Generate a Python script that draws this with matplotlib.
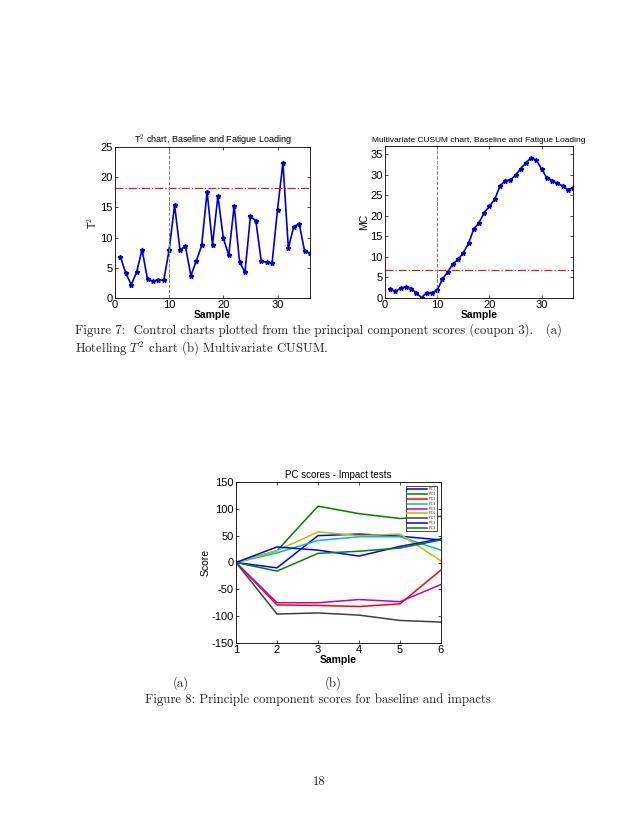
import matplotlib
matplotlib.use("Agg")
import matplotlib.pyplot as plt

matplotlib.rcParams['font.family'] = ['Liberation Sans', 'DejaVu Sans']
matplotlib.rcParams['mathtext.fontset'] = 'cm'
matplotlib.rcParams['axes.unicode_minus'] = False

W, H = 638, 826

# ---------- data ----------
samples = list(range(1, 37))
t2 = [6.8, 4.1, 2.2, 4.3, 8.0, 3.1, 2.8, 3.0, 2.9, 8.0,
      15.4, 7.9, 8.6, 3.7, 6.1, 8.7, 17.6, 8.8, 16.9, 9.9,
      7.1, 15.3, 5.9, 4.3, 13.5, 12.8, 6.1, 5.9, 5.8, 14.6,
      22.4, 8.3, 11.8, 12.3, 7.8, 7.4]
t2_limit = 18.2

mc = [2.2, 1.6, 2.4, 2.7, 2.3, 1.2, 0.1, 1.3, 1.3, 1.9,
      4.6, 6.3, 8.3, 9.4, 11.0, 13.3, 16.8, 18.3, 20.8, 22.3,
      24.0, 27.2, 28.6, 28.7, 29.9, 31.5, 32.9, 34.2, 33.5, 31.4,
      29.2, 28.6, 27.9, 27.3, 26.4, 26.8]
mc_limit = 6.7
change_point = 10

pc_samples = [1, 2, 3, 4, 5, 6]
pc_names = ['PC 1', 'PC 2', 'PC 3', 'PC 4', 'PC 5', 'PC 6', 'PC 7', 'PC 8', 'PC 9']
pc_scores = [
    [0, -10, 50, 53, 49, 42],
    [0, 22, 105, 91, 82, 86],
    [0, -79, -80, -82, -77, -14],
    [0, 18, 41, 48, 48, 23],
    [0, -75, -75, -69, -73, -41],
    [0, 22, 57, 50, 53, 3],
    [0, -96, -94, -98, -108, -111],
    [0, 29, 23, 12, 30, 44],
    [0, -16, 17, 21, 27, 42],
]
pc_colors = ['#0000ff', '#008000', '#ff0000', '#00bfbf', '#bf00bf',
             '#bfbf00', '#404040', '#0000ff', '#008000']

fig = plt.figure(figsize=(W / 100, H / 100), dpi=100)


def px_axes(l, t, r, b):
    return fig.add_axes([l / W, 1 - b / H, (r - l) / W, (b - t) / H])


def matlab_style(ax):
    ax.tick_params(direction='in', top=True, right=True, labelsize=8,
                   length=2.5, width=0.5, pad=1.5)
    for s in ax.spines.values():
        s.set_linewidth(0.6)


# ---------- T^2 chart ----------
ax1 = px_axes(115, 147, 310, 298)
ax1.plot(samples, t2, color='#0000cc', lw=1.2, marker='*', ms=3.5)
ax1.axhline(t2_limit, color='#dd2222', ls='-.', lw=0.9)
ax1.axvline(change_point, color='gray', ls='--', lw=0.7)
ax1.set_xlim(0, 36)
ax1.set_ylim(0, 25)
ax1.set_xticks([0, 10, 20, 30])
ax1.set_yticks([0, 5, 10, 15, 20, 25])
ax1.set_xlabel('Sample', fontsize=7.5, labelpad=0, fontweight='bold')
ax1.set_ylabel('T$^2$', fontsize=7.5, labelpad=1)
ax1.set_title('T$^2$ chart, Baseline and Fatigue Loading', fontsize=6.5, pad=3)
matlab_style(ax1)

# ---------- MCUSUM chart ----------
ax2 = px_axes(385, 146, 573, 298)
ax2.plot(samples, mc, color='#0000cc', lw=1.2, marker='*', ms=3.5)
ax2.axhline(mc_limit, color='#dd2222', ls='-.', lw=0.9)
ax2.axvline(change_point, color='gray', ls='--', lw=0.7)
ax2.set_xlim(0, 36)
ax2.set_ylim(0, 37)
ax2.set_xticks([0, 10, 20, 30])
ax2.set_yticks([0, 5, 10, 15, 20, 25, 30, 35])
ax2.set_xlabel('Sample', fontsize=7.5, labelpad=0, fontweight='bold')
ax2.set_ylabel('MC', fontsize=7.5, labelpad=1)
ax2.set_title('Multivariate CUSUM chart, Baseline and Fatigue Loading', fontsize=6, pad=3)
matlab_style(ax2)

# ---------- PC scores ----------
ax3 = px_axes(236, 482, 441, 643)
for name, vals, c in zip(pc_names, pc_scores, pc_colors):
    ax3.plot(pc_samples, vals, color=c, lw=1.1, label=name)
ax3.set_xlim(1, 6)
ax3.set_ylim(-150, 150)
ax3.set_xticks(pc_samples)
ax3.set_yticks([-150, -100, -50, 0, 50, 100, 150])
ax3.set_xlabel('Sample', fontsize=7.5, labelpad=0, fontweight='bold')
ax3.set_ylabel('Score', fontsize=7.5, labelpad=1)
ax3.set_title('PC scores - Impact tests', fontsize=7, pad=3)
matlab_style(ax3)
leg = ax3.legend(loc='upper right', fontsize=2, handlelength=7, handletextpad=0.8,
                 labelspacing=0.3, borderpad=0.5, frameon=True, fancybox=False,
                 edgecolor='black', framealpha=1, bbox_to_anchor=(0.985, 0.985))
leg.get_frame().set_linewidth(0.5)

# ---------- captions ----------
cap = dict(family='cmr10', fontsize=9.2, color='#222222')
fig.text(75 / W, 1 - 330 / H,
         'Figure 7:  Control charts plotted from the principal component scores (coupon 3).   (a)',
         va='center', ha='left', **cap)
fig.text(75 / W, 1 - 348 / H,
         'Hotelling $T^2$ chart (b) Multivariate CUSUM.',
         va='center', ha='left', **cap)
fig.text(181 / W, 1 - 683 / H, '(a)', va='center', ha='center', **cap)
fig.text(333 / W, 1 - 683 / H, '(b)', va='center', ha='center', **cap)
fig.text(318 / W, 1 - 700 / H,
         'Figure 8: Principle component scores for baseline and impacts',
         va='center', ha='center', **cap)
fig.text(319 / W, 1 - 782 / H, '18', va='center', ha='center', **cap)

fig.savefig('out.png', dpi=100)
